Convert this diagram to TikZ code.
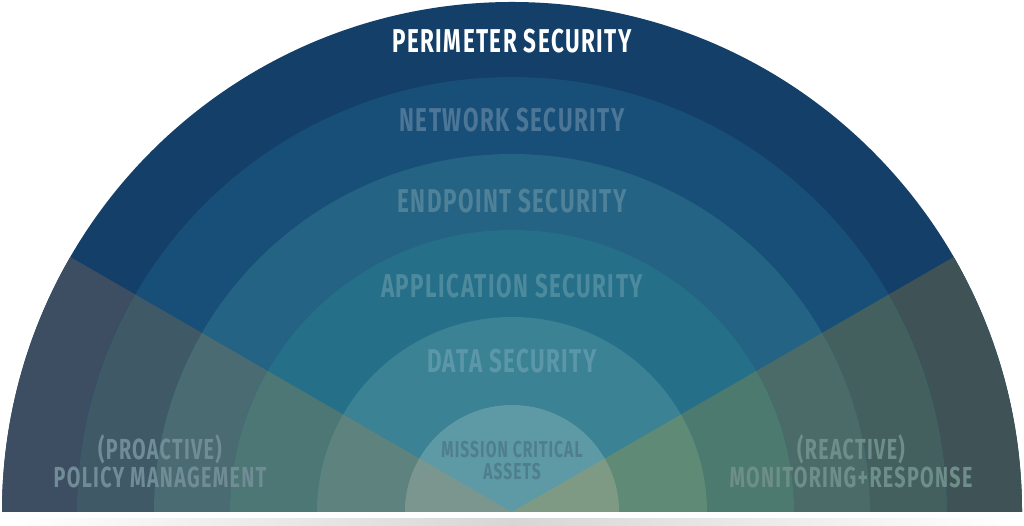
\documentclass[tikz,border=0pt]{standalone}
\usepackage{fontspec}
\newfontfamily\cond[FakeStretch=0.68,LetterSpace=4.5]{Fira Sans}
\definecolor{rA}{HTML}{133F69}
\definecolor{rB}{HTML}{184F78}
\definecolor{rC}{HTML}{246383}
\definecolor{rD}{HTML}{256F88}
\definecolor{rE}{HTML}{3A8294}
\definecolor{rF}{HTML}{5E9AA5}
\definecolor{lA}{HTML}{3E4E62}
\definecolor{lB}{HTML}{3F5A66}
\definecolor{lC}{HTML}{4A6B72}
\definecolor{lD}{HTML}{4D7775}
\definecolor{lE}{HTML}{5E827E}
\definecolor{lF}{HTML}{7B968E}
\definecolor{gA}{HTML}{3F5256}
\definecolor{gB}{HTML}{43605F}
\definecolor{gC}{HTML}{4A6B68}
\definecolor{gD}{HTML}{4D7A6E}
\definecolor{gE}{HTML}{5E8A76}
\definecolor{gF}{HTML}{7F9A84}
\definecolor{tNet}{HTML}{4C7596}
\definecolor{tEnd}{HTML}{4F8199}
\definecolor{tApp}{HTML}{4E8A9E}
\definecolor{tDat}{HTML}{5B97A8}
\definecolor{tMis}{HTML}{4F7F8C}
\definecolor{tLeft}{HTML}{708C96}
\definecolor{tRight}{HTML}{6E8E8A}
\tikzset{
  lbl/.style={anchor=base, inner sep=0pt, font=\cond\bfseries\fontsize{33}{33}\selectfont},
  sml/.style={anchor=base, inner sep=0pt, font=\cond\bfseries\fontsize{23}{23}\selectfont},
  side/.style={anchor=base, inner sep=0pt, font=\cond\bfseries\fontsize{29}{29}\selectfont},
}
\begin{document}
\begin{tikzpicture}[x=1pt,y=1pt]
\useasboundingbox (0,0) rectangle (1024,526);
\fill[white] (0,0) rectangle (1024,526);
\shade[left color=white, right color=white, middle color=black!16] (10,0) rectangle (1014,7);
\fill[rA] (512,14) -- ++(0:510) arc[start angle=0,end angle=180,radius=510] -- cycle;
\fill[lA] (512,14) -- ++(150:510) arc[start angle=150,end angle=180,radius=510] -- cycle;
\fill[gA] (512,14) -- ++(0:510) arc[start angle=0,end angle=30,radius=510] -- cycle;
\fill[rB] (512,14) -- ++(0:435) arc[start angle=0,end angle=180,radius=435] -- cycle;
\fill[lB] (512,14) -- ++(150:435) arc[start angle=150,end angle=180,radius=435] -- cycle;
\fill[gB] (512,14) -- ++(0:435) arc[start angle=0,end angle=30,radius=435] -- cycle;
\fill[rC] (512,14) -- ++(0:358) arc[start angle=0,end angle=180,radius=358] -- cycle;
\fill[lC] (512,14) -- ++(150:358) arc[start angle=150,end angle=180,radius=358] -- cycle;
\fill[gC] (512,14) -- ++(0:358) arc[start angle=0,end angle=30,radius=358] -- cycle;
\fill[rD] (512,14) -- ++(0:282) arc[start angle=0,end angle=180,radius=282] -- cycle;
\fill[lD] (512,14) -- ++(150:282) arc[start angle=150,end angle=180,radius=282] -- cycle;
\fill[gD] (512,14) -- ++(0:282) arc[start angle=0,end angle=30,radius=282] -- cycle;
\fill[rE] (512,14) -- ++(0:195) arc[start angle=0,end angle=180,radius=195] -- cycle;
\fill[lE] (512,14) -- ++(150:195) arc[start angle=150,end angle=180,radius=195] -- cycle;
\fill[gE] (512,14) -- ++(0:195) arc[start angle=0,end angle=30,radius=195] -- cycle;
\fill[rF] (512,14) -- ++(0:107) arc[start angle=0,end angle=180,radius=107] -- cycle;
\fill[lF] (512,14) -- ++(150:107) arc[start angle=150,end angle=180,radius=107] -- cycle;
\fill[gF] (512,14) -- ++(0:107) arc[start angle=0,end angle=30,radius=107] -- cycle;
\node[lbl, text=white] (per) at (512,473) {PERIMETER SECURITY};
\node[lbl, text=tNet] (net) at (512,394) {NETWORK SECURITY};
\node[lbl, text=tEnd] (endp) at (512,313) {ENDPOINT SECURITY};
\node[lbl, text=tApp] (app) at (512,228) {APPLICATION SECURITY};
\node[lbl, text=tDat] (dat) at (512,153) {DATA SECURITY};
\node[sml, text=tMis] (mis1) at (512,68) {MISSION CRITICAL};
\node[sml, text=tMis] (mis2) at (512,46) {ASSETS};
\node[side, text=tLeft] (pro) at (160,66) {(PROACTIVE)};
\node[side, text=tLeft] (pol) at (160,38) {POLICY MANAGEMENT};
\node[side, text=tRight] (rea) at (851,66) {(REACTIVE)};
\node[side, text=tRight] (mon) at (851,38) {MONITORING+RESPONSE};
\end{tikzpicture}
\end{document}
